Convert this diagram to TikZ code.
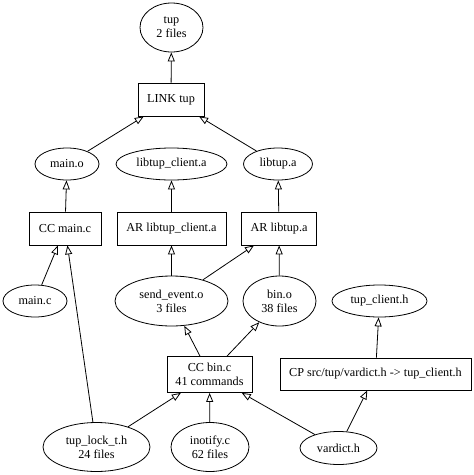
\documentclass[tikz,border=0pt]{standalone}
\usepackage{fontspec}
\setmainfont{Liberation Serif}
\usetikzlibrary{shapes.geometric, arrows.meta}

\begin{document}
\begin{tikzpicture}[x=1pt, y=-1pt, line width=0.8pt,
  every node/.style={font=\fontsize{12.2}{14}\selectfont, align=center, inner sep=0pt},
  file/.style={draw, ellipse},
  cmd/.style={draw, rectangle},
  dep/.style={-{Triangle[open, length=9pt, width=7pt]}}]
\useasboundingbox (0,0) rectangle (474,475);
% Draw files and commands
\node[file, minimum width=63, minimum height=49] (tup) at (171.5,27.5) {tup\\2 files};
\node[cmd, minimum width=66, minimum height=33] (linktup) at (171,99.5) {LINK tup};
\node[file, minimum width=64, minimum height=32] (maino) at (67,164) {main.o};
\node[file, minimum width=111, minimum height=32] (clienta) at (171.5,164) {libtup\_client.a};
\node[file, minimum width=69, minimum height=32] (libtupa) at (278,164) {libtup.a};
\node[cmd, minimum width=72, minimum height=33] (ccmain) at (65,228.5) {CC main.c};
\node[cmd, minimum width=109, minimum height=33] (arclient) at (171.5,228.5) {AR libtup\_client.a};
\node[cmd, minimum width=75, minimum height=33] (arlibtup) at (279,228.5) {AR libtup.a};
\node[file, minimum width=64, minimum height=32] (mainc) at (35,301) {main.c};
\node[file, minimum width=113, minimum height=50] (sendevent) at (171.5,301) {send\_event.o\\3 files};
\node[file, minimum width=73, minimum height=50] (bino) at (279.5,301) {bin.o\\38 files};
\node[file, minimum width=95, minimum height=32] (clienth) at (379.5,301) {tup\_client.h};
\node[cmd, minimum width=85, minimum height=36] (ccbin) at (209.5,374.5) {CC bin.c\\41 commands};
\node[cmd, minimum width=191, minimum height=32] (cp) at (375.5,374) {CP src/tup/vardict.h -> tup\_client.h};
\node[file, minimum width=107, minimum height=49] (lockh) at (96.5,447) {tup\_lock\_t.h\\24 files};
\node[file, minimum width=78, minimum height=49] (inotify) at (210,447) {inotify.c\\62 files};
\node[file, minimum width=77, minimum height=33] (vardict) at (338.5,448) {vardict.h};
% Draw dependencies
\draw[dep] (linktup) -- (tup);
\draw[dep] (maino) -- (linktup);
\draw[dep] (libtupa) -- (linktup);
\draw[dep] (ccmain) -- (maino);
\draw[dep] (arclient) -- (clienta);
\draw[dep] (arlibtup) -- (libtupa);
\draw[dep] (mainc) -- (ccmain);
\draw[dep] (lockh) -- (ccmain);
\draw[dep] (sendevent) -- (arclient);
\draw[dep] (sendevent) -- (arlibtup);
\draw[dep] (bino) -- (arlibtup);
\draw[dep] (ccbin) -- (sendevent);
\draw[dep] (ccbin) -- (bino);
\draw[dep] (lockh) -- (ccbin);
\draw[dep] (inotify) -- (ccbin);
\draw[dep] (vardict) -- (ccbin);
\draw[dep] (vardict) -- (cp);
\draw[dep] (cp) -- (clienth);
\end{tikzpicture}
\end{document}
